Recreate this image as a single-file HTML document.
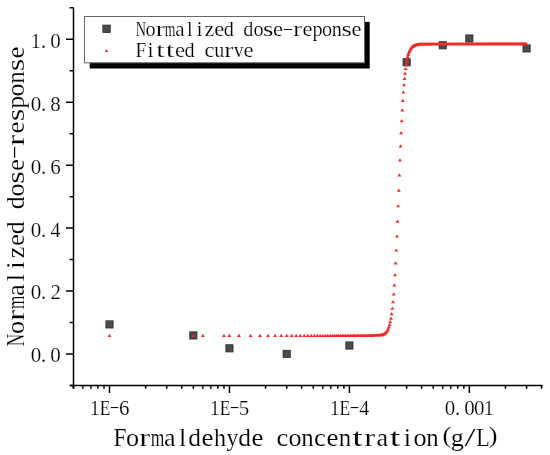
<!DOCTYPE html>
<html><head><meta charset="utf-8"><style>
html,body{margin:0;padding:0;background:#fff;}
body{width:550px;height:455px;overflow:hidden;}
svg{display:block;}
text{font-family:"Liberation Serif", serif;fill:#000;stroke:#fff;stroke-width:0.2px;}
.tl{font-size:21px;}
.ti{font-size:26.2px;stroke-width:0.15px;}
.lg{font-size:20.2px;}
</style></head><body>
<svg width="550" height="455" viewBox="0 0 550 455">
<rect width="550" height="455" fill="#fff"/>
<g fill="#4b4b4b" stroke="#2b2b2b" stroke-width="0.8">
<rect x="105.90" y="320.82" width="7.2" height="7.2"/>
<rect x="189.74" y="331.83" width="7.2" height="7.2"/>
<rect x="225.85" y="344.74" width="7.2" height="7.2"/>
<rect x="283.08" y="350.24" width="7.2" height="7.2"/>
<rect x="345.80" y="341.90" width="7.2" height="7.2"/>
<rect x="403.03" y="58.67" width="7.2" height="7.2"/>
<rect x="439.14" y="41.68" width="7.2" height="7.2"/>
<rect x="465.75" y="34.91" width="7.2" height="7.2"/>
<rect x="522.98" y="44.83" width="7.2" height="7.2"/>
</g>
<path fill="#f42a2a" d="M107.55 336.91h3.9l-1.95 -3.2zM191.39 336.91h3.9l-1.95 -3.2zM227.50 336.91h3.9l-1.95 -3.2zM200.89 336.91h3.9l-1.95 -3.2zM222.01 336.91h3.9l-1.95 -3.2zM237.00 336.91h3.9l-1.95 -3.2zM248.62 336.91h3.9l-1.95 -3.2zM258.12 336.91h3.9l-1.95 -3.2zM266.15 336.91h3.9l-1.95 -3.2zM273.11 336.91h3.9l-1.95 -3.2zM279.24 336.91h3.9l-1.95 -3.2zM284.73 336.91h3.9l-1.95 -3.2zM289.70 336.91h3.9l-1.95 -3.2zM294.23 336.91h3.9l-1.95 -3.2zM298.40 336.91h3.9l-1.95 -3.2zM302.26 336.91h3.9l-1.95 -3.2zM305.85 336.91h3.9l-1.95 -3.2zM309.21 336.91h3.9l-1.95 -3.2zM312.37 336.91h3.9l-1.95 -3.2zM315.35 336.91h3.9l-1.95 -3.2zM318.17 336.91h3.9l-1.95 -3.2zM320.84 336.91h3.9l-1.95 -3.2zM323.38 336.91h3.9l-1.95 -3.2zM325.80 336.91h3.9l-1.95 -3.2zM328.12 336.91h3.9l-1.95 -3.2zM330.34 336.91h3.9l-1.95 -3.2zM332.46 336.91h3.9l-1.95 -3.2zM334.51 336.91h3.9l-1.95 -3.2zM336.47 336.91h3.9l-1.95 -3.2zM338.37 336.91h3.9l-1.95 -3.2zM340.20 336.91h3.9l-1.95 -3.2zM341.96 336.91h3.9l-1.95 -3.2zM343.67 336.91h3.9l-1.95 -3.2zM345.32 336.91h3.9l-1.95 -3.2zM346.93 336.91h3.9l-1.95 -3.2zM348.48 336.91h3.9l-1.95 -3.2zM349.99 336.91h3.9l-1.95 -3.2zM351.46 336.91h3.9l-1.95 -3.2zM352.89 336.91h3.9l-1.95 -3.2zM354.28 336.91h3.9l-1.95 -3.2zM355.63 336.91h3.9l-1.95 -3.2zM356.95 336.91h3.9l-1.95 -3.2zM358.23 336.91h3.9l-1.95 -3.2zM359.49 336.91h3.9l-1.95 -3.2zM360.72 336.91h3.9l-1.95 -3.2zM361.91 336.91h3.9l-1.95 -3.2zM363.08 336.90h3.9l-1.95 -3.2zM364.23 336.90h3.9l-1.95 -3.2zM365.35 336.90h3.9l-1.95 -3.2zM366.45 336.90h3.9l-1.95 -3.2zM367.52 336.90h3.9l-1.95 -3.2zM368.57 336.89h3.9l-1.95 -3.2zM369.60 336.89h3.9l-1.95 -3.2zM370.62 336.88h3.9l-1.95 -3.2zM371.61 336.87h3.9l-1.95 -3.2zM372.58 336.85h3.9l-1.95 -3.2zM373.54 336.83h3.9l-1.95 -3.2zM374.48 336.80h3.9l-1.95 -3.2zM375.40 336.75h3.9l-1.95 -3.2zM376.30 336.70h3.9l-1.95 -3.2zM377.19 336.62h3.9l-1.95 -3.2zM378.07 336.52h3.9l-1.95 -3.2zM378.93 336.38h3.9l-1.95 -3.2zM379.78 336.19h3.9l-1.95 -3.2zM380.61 335.95h3.9l-1.95 -3.2zM381.43 335.63h3.9l-1.95 -3.2zM382.24 335.21h3.9l-1.95 -3.2zM383.03 334.67h3.9l-1.95 -3.2zM383.82 333.97h3.9l-1.95 -3.2zM384.59 333.06h3.9l-1.95 -3.2zM385.35 331.90h3.9l-1.95 -3.2zM386.10 330.43h3.9l-1.95 -3.2zM386.84 328.56h3.9l-1.95 -3.2zM387.57 326.20h3.9l-1.95 -3.2zM388.29 323.27h3.9l-1.95 -3.2zM389.00 319.63h3.9l-1.95 -3.2zM389.69 315.17h3.9l-1.95 -3.2zM390.38 309.75h3.9l-1.95 -3.2zM391.07 303.24h3.9l-1.95 -3.2zM391.74 295.53h3.9l-1.95 -3.2zM392.40 286.52h3.9l-1.95 -3.2zM393.06 276.17h3.9l-1.95 -3.2zM393.70 264.50h3.9l-1.95 -3.2zM394.34 251.58h3.9l-1.95 -3.2zM394.97 237.58h3.9l-1.95 -3.2zM395.60 222.74h3.9l-1.95 -3.2zM396.21 207.37h3.9l-1.95 -3.2zM396.82 191.82h3.9l-1.95 -3.2zM397.43 176.43h3.9l-1.95 -3.2zM398.02 161.54h3.9l-1.95 -3.2zM398.61 147.42h3.9l-1.95 -3.2zM399.19 134.30h3.9l-1.95 -3.2zM399.77 122.32h3.9l-1.95 -3.2zM400.34 111.54h3.9l-1.95 -3.2zM400.90 101.98h3.9l-1.95 -3.2zM401.46 93.59h3.9l-1.95 -3.2zM402.01 86.31h3.9l-1.95 -3.2zM402.55 80.04h3.9l-1.95 -3.2zM403.09 74.68h3.9l-1.95 -3.2zM403.63 70.12h3.9l-1.95 -3.2zM404.16 66.25h3.9l-1.95 -3.2zM404.68 62.98h3.9l-1.95 -3.2zM405.20 60.23h3.9l-1.95 -3.2zM405.71 57.92h3.9l-1.95 -3.2zM406.22 55.98h3.9l-1.95 -3.2zM406.72 54.34h3.9l-1.95 -3.2zM407.22 52.98h3.9l-1.95 -3.2zM407.72 51.83h3.9l-1.95 -3.2zM408.21 50.86h3.9l-1.95 -3.2zM408.69 50.05h3.9l-1.95 -3.2zM409.17 49.37h3.9l-1.95 -3.2zM409.65 48.80h3.9l-1.95 -3.2zM410.12 48.32h3.9l-1.95 -3.2zM410.58 47.91h3.9l-1.95 -3.2zM411.05 47.57h3.9l-1.95 -3.2zM411.51 47.28h3.9l-1.95 -3.2zM411.96 47.04h3.9l-1.95 -3.2zM412.41 46.83h3.9l-1.95 -3.2zM412.86 46.65h3.9l-1.95 -3.2zM413.30 46.50h3.9l-1.95 -3.2zM413.74 46.38h3.9l-1.95 -3.2zM414.18 46.27h3.9l-1.95 -3.2zM414.61 46.18h3.9l-1.95 -3.2zM415.04 46.10h3.9l-1.95 -3.2zM415.46 46.03h3.9l-1.95 -3.2zM415.89 45.98h3.9l-1.95 -3.2zM416.31 45.93h3.9l-1.95 -3.2zM416.72 45.89h3.9l-1.95 -3.2zM417.13 45.85h3.9l-1.95 -3.2zM417.54 45.82h3.9l-1.95 -3.2zM417.95 45.79h3.9l-1.95 -3.2zM418.35 45.77h3.9l-1.95 -3.2zM418.75 45.75h3.9l-1.95 -3.2zM419.14 45.73h3.9l-1.95 -3.2zM419.54 45.72h3.9l-1.95 -3.2zM419.93 45.71h3.9l-1.95 -3.2zM420.31 45.70h3.9l-1.95 -3.2zM420.70 45.69h3.9l-1.95 -3.2zM421.08 45.68h3.9l-1.95 -3.2zM421.46 45.67h3.9l-1.95 -3.2zM421.84 45.66h3.9l-1.95 -3.2zM422.21 45.66h3.9l-1.95 -3.2zM422.58 45.65h3.9l-1.95 -3.2zM422.95 45.65h3.9l-1.95 -3.2zM423.31 45.65h3.9l-1.95 -3.2zM423.68 45.64h3.9l-1.95 -3.2zM424.04 45.64h3.9l-1.95 -3.2zM424.39 45.64h3.9l-1.95 -3.2zM424.75 45.64h3.9l-1.95 -3.2zM425.10 45.63h3.9l-1.95 -3.2zM425.45 45.63h3.9l-1.95 -3.2zM425.80 45.63h3.9l-1.95 -3.2zM426.15 45.63h3.9l-1.95 -3.2zM426.49 45.63h3.9l-1.95 -3.2zM426.83 45.63h3.9l-1.95 -3.2zM427.17 45.63h3.9l-1.95 -3.2zM427.51 45.63h3.9l-1.95 -3.2zM427.85 45.63h3.9l-1.95 -3.2zM428.18 45.63h3.9l-1.95 -3.2zM428.51 45.62h3.9l-1.95 -3.2zM428.84 45.62h3.9l-1.95 -3.2zM429.16 45.62h3.9l-1.95 -3.2zM429.49 45.62h3.9l-1.95 -3.2zM429.81 45.62h3.9l-1.95 -3.2zM430.13 45.62h3.9l-1.95 -3.2zM430.45 45.62h3.9l-1.95 -3.2zM430.77 45.62h3.9l-1.95 -3.2zM431.08 45.62h3.9l-1.95 -3.2zM431.40 45.62h3.9l-1.95 -3.2zM431.71 45.62h3.9l-1.95 -3.2zM432.02 45.62h3.9l-1.95 -3.2zM432.32 45.62h3.9l-1.95 -3.2zM432.63 45.62h3.9l-1.95 -3.2zM432.93 45.62h3.9l-1.95 -3.2zM433.23 45.62h3.9l-1.95 -3.2zM433.53 45.62h3.9l-1.95 -3.2zM433.83 45.62h3.9l-1.95 -3.2zM434.13 45.62h3.9l-1.95 -3.2zM434.43 45.62h3.9l-1.95 -3.2zM434.72 45.62h3.9l-1.95 -3.2zM435.01 45.62h3.9l-1.95 -3.2zM435.30 45.62h3.9l-1.95 -3.2zM435.59 45.62h3.9l-1.95 -3.2zM435.88 45.62h3.9l-1.95 -3.2zM436.16 45.62h3.9l-1.95 -3.2zM436.45 45.62h3.9l-1.95 -3.2zM436.73 45.62h3.9l-1.95 -3.2zM437.01 45.62h3.9l-1.95 -3.2zM437.29 45.62h3.9l-1.95 -3.2zM437.57 45.62h3.9l-1.95 -3.2zM437.84 45.62h3.9l-1.95 -3.2zM438.12 45.62h3.9l-1.95 -3.2zM438.39 45.62h3.9l-1.95 -3.2zM438.66 45.62h3.9l-1.95 -3.2zM438.93 45.62h3.9l-1.95 -3.2zM439.20 45.62h3.9l-1.95 -3.2zM439.47 45.62h3.9l-1.95 -3.2zM439.74 45.62h3.9l-1.95 -3.2zM440.00 45.62h3.9l-1.95 -3.2zM440.27 45.62h3.9l-1.95 -3.2zM440.53 45.62h3.9l-1.95 -3.2zM440.79 45.62h3.9l-1.95 -3.2zM441.05 45.62h3.9l-1.95 -3.2zM441.31 45.62h3.9l-1.95 -3.2zM441.56 45.62h3.9l-1.95 -3.2zM441.82 45.62h3.9l-1.95 -3.2zM442.08 45.62h3.9l-1.95 -3.2zM442.33 45.62h3.9l-1.95 -3.2zM442.58 45.62h3.9l-1.95 -3.2zM442.83 45.62h3.9l-1.95 -3.2zM443.08 45.62h3.9l-1.95 -3.2zM443.33 45.62h3.9l-1.95 -3.2zM443.58 45.62h3.9l-1.95 -3.2zM443.82 45.62h3.9l-1.95 -3.2zM444.07 45.62h3.9l-1.95 -3.2zM444.31 45.62h3.9l-1.95 -3.2zM444.56 45.62h3.9l-1.95 -3.2zM444.80 45.62h3.9l-1.95 -3.2zM445.04 45.62h3.9l-1.95 -3.2zM445.28 45.62h3.9l-1.95 -3.2zM445.52 45.62h3.9l-1.95 -3.2zM445.75 45.62h3.9l-1.95 -3.2zM445.99 45.62h3.9l-1.95 -3.2zM446.23 45.62h3.9l-1.95 -3.2zM446.46 45.62h3.9l-1.95 -3.2zM446.69 45.62h3.9l-1.95 -3.2zM446.92 45.62h3.9l-1.95 -3.2zM447.16 45.62h3.9l-1.95 -3.2zM447.39 45.62h3.9l-1.95 -3.2zM447.61 45.62h3.9l-1.95 -3.2zM447.84 45.62h3.9l-1.95 -3.2zM448.07 45.62h3.9l-1.95 -3.2zM448.30 45.62h3.9l-1.95 -3.2zM448.52 45.62h3.9l-1.95 -3.2zM448.75 45.62h3.9l-1.95 -3.2zM448.97 45.62h3.9l-1.95 -3.2zM449.19 45.62h3.9l-1.95 -3.2zM449.41 45.62h3.9l-1.95 -3.2zM449.63 45.62h3.9l-1.95 -3.2zM449.85 45.62h3.9l-1.95 -3.2zM450.07 45.62h3.9l-1.95 -3.2zM450.29 45.62h3.9l-1.95 -3.2zM450.50 45.62h3.9l-1.95 -3.2zM450.72 45.62h3.9l-1.95 -3.2zM450.93 45.62h3.9l-1.95 -3.2zM451.15 45.62h3.9l-1.95 -3.2zM451.36 45.62h3.9l-1.95 -3.2zM451.57 45.62h3.9l-1.95 -3.2zM451.78 45.62h3.9l-1.95 -3.2zM452.00 45.62h3.9l-1.95 -3.2zM452.20 45.62h3.9l-1.95 -3.2zM452.41 45.62h3.9l-1.95 -3.2zM452.62 45.62h3.9l-1.95 -3.2zM452.83 45.62h3.9l-1.95 -3.2zM453.04 45.62h3.9l-1.95 -3.2zM453.24 45.62h3.9l-1.95 -3.2zM453.45 45.62h3.9l-1.95 -3.2zM453.65 45.62h3.9l-1.95 -3.2zM453.85 45.62h3.9l-1.95 -3.2zM454.05 45.62h3.9l-1.95 -3.2zM454.26 45.62h3.9l-1.95 -3.2zM454.46 45.62h3.9l-1.95 -3.2zM454.66 45.62h3.9l-1.95 -3.2zM454.86 45.62h3.9l-1.95 -3.2zM455.05 45.62h3.9l-1.95 -3.2zM455.25 45.62h3.9l-1.95 -3.2zM455.45 45.62h3.9l-1.95 -3.2zM455.65 45.62h3.9l-1.95 -3.2zM455.84 45.62h3.9l-1.95 -3.2zM456.04 45.62h3.9l-1.95 -3.2zM456.23 45.62h3.9l-1.95 -3.2zM456.42 45.62h3.9l-1.95 -3.2zM456.62 45.62h3.9l-1.95 -3.2zM456.81 45.62h3.9l-1.95 -3.2zM457.00 45.62h3.9l-1.95 -3.2zM457.19 45.62h3.9l-1.95 -3.2zM457.38 45.62h3.9l-1.95 -3.2zM457.57 45.62h3.9l-1.95 -3.2zM457.76 45.62h3.9l-1.95 -3.2zM457.94 45.62h3.9l-1.95 -3.2zM458.13 45.62h3.9l-1.95 -3.2zM458.32 45.62h3.9l-1.95 -3.2zM458.50 45.62h3.9l-1.95 -3.2zM458.69 45.62h3.9l-1.95 -3.2zM458.87 45.62h3.9l-1.95 -3.2zM459.06 45.62h3.9l-1.95 -3.2zM459.24 45.62h3.9l-1.95 -3.2zM459.42 45.62h3.9l-1.95 -3.2zM459.60 45.62h3.9l-1.95 -3.2zM459.78 45.62h3.9l-1.95 -3.2zM459.97 45.62h3.9l-1.95 -3.2zM460.15 45.62h3.9l-1.95 -3.2zM460.32 45.62h3.9l-1.95 -3.2zM460.50 45.62h3.9l-1.95 -3.2zM460.68 45.62h3.9l-1.95 -3.2zM460.86 45.62h3.9l-1.95 -3.2zM461.04 45.62h3.9l-1.95 -3.2zM461.21 45.62h3.9l-1.95 -3.2zM461.39 45.62h3.9l-1.95 -3.2zM461.56 45.62h3.9l-1.95 -3.2zM461.74 45.62h3.9l-1.95 -3.2zM461.91 45.62h3.9l-1.95 -3.2zM462.08 45.62h3.9l-1.95 -3.2zM462.26 45.62h3.9l-1.95 -3.2zM462.43 45.62h3.9l-1.95 -3.2zM462.60 45.62h3.9l-1.95 -3.2zM462.77 45.62h3.9l-1.95 -3.2zM462.94 45.62h3.9l-1.95 -3.2zM463.11 45.62h3.9l-1.95 -3.2zM463.28 45.62h3.9l-1.95 -3.2zM463.45 45.62h3.9l-1.95 -3.2zM463.62 45.62h3.9l-1.95 -3.2zM463.79 45.62h3.9l-1.95 -3.2zM463.95 45.62h3.9l-1.95 -3.2zM464.12 45.62h3.9l-1.95 -3.2zM464.29 45.62h3.9l-1.95 -3.2zM464.45 45.62h3.9l-1.95 -3.2zM464.62 45.62h3.9l-1.95 -3.2zM464.78 45.62h3.9l-1.95 -3.2zM464.95 45.62h3.9l-1.95 -3.2zM465.11 45.62h3.9l-1.95 -3.2zM465.27 45.62h3.9l-1.95 -3.2zM465.44 45.62h3.9l-1.95 -3.2zM465.60 45.62h3.9l-1.95 -3.2zM465.76 45.62h3.9l-1.95 -3.2zM465.92 45.62h3.9l-1.95 -3.2zM466.08 45.62h3.9l-1.95 -3.2zM466.24 45.62h3.9l-1.95 -3.2zM466.40 45.62h3.9l-1.95 -3.2zM466.56 45.62h3.9l-1.95 -3.2zM466.72 45.62h3.9l-1.95 -3.2zM466.88 45.62h3.9l-1.95 -3.2zM467.03 45.62h3.9l-1.95 -3.2zM467.19 45.62h3.9l-1.95 -3.2zM467.35 45.62h3.9l-1.95 -3.2zM467.50 45.62h3.9l-1.95 -3.2zM467.66 45.62h3.9l-1.95 -3.2zM467.82 45.62h3.9l-1.95 -3.2zM467.97 45.62h3.9l-1.95 -3.2zM468.12 45.62h3.9l-1.95 -3.2zM468.28 45.62h3.9l-1.95 -3.2zM468.43 45.62h3.9l-1.95 -3.2zM468.58 45.62h3.9l-1.95 -3.2zM468.74 45.62h3.9l-1.95 -3.2zM468.89 45.62h3.9l-1.95 -3.2zM469.04 45.62h3.9l-1.95 -3.2zM469.19 45.62h3.9l-1.95 -3.2zM469.34 45.62h3.9l-1.95 -3.2zM469.49 45.62h3.9l-1.95 -3.2zM469.64 45.62h3.9l-1.95 -3.2zM469.79 45.62h3.9l-1.95 -3.2zM469.94 45.62h3.9l-1.95 -3.2zM470.09 45.62h3.9l-1.95 -3.2zM470.24 45.62h3.9l-1.95 -3.2zM470.39 45.62h3.9l-1.95 -3.2zM470.53 45.62h3.9l-1.95 -3.2zM470.68 45.62h3.9l-1.95 -3.2zM470.83 45.62h3.9l-1.95 -3.2zM470.97 45.62h3.9l-1.95 -3.2zM471.12 45.62h3.9l-1.95 -3.2zM471.26 45.62h3.9l-1.95 -3.2zM471.41 45.62h3.9l-1.95 -3.2zM471.55 45.62h3.9l-1.95 -3.2zM471.70 45.62h3.9l-1.95 -3.2zM471.84 45.62h3.9l-1.95 -3.2zM471.98 45.62h3.9l-1.95 -3.2zM472.13 45.62h3.9l-1.95 -3.2zM472.27 45.62h3.9l-1.95 -3.2zM472.41 45.62h3.9l-1.95 -3.2zM472.55 45.62h3.9l-1.95 -3.2zM472.70 45.62h3.9l-1.95 -3.2zM472.84 45.62h3.9l-1.95 -3.2zM472.98 45.62h3.9l-1.95 -3.2zM473.12 45.62h3.9l-1.95 -3.2zM473.26 45.62h3.9l-1.95 -3.2zM473.40 45.62h3.9l-1.95 -3.2zM473.54 45.62h3.9l-1.95 -3.2zM473.67 45.62h3.9l-1.95 -3.2zM473.81 45.62h3.9l-1.95 -3.2zM473.95 45.62h3.9l-1.95 -3.2zM474.09 45.62h3.9l-1.95 -3.2zM474.23 45.62h3.9l-1.95 -3.2zM474.36 45.62h3.9l-1.95 -3.2zM474.50 45.62h3.9l-1.95 -3.2zM474.64 45.62h3.9l-1.95 -3.2zM474.77 45.62h3.9l-1.95 -3.2zM474.91 45.62h3.9l-1.95 -3.2zM475.04 45.62h3.9l-1.95 -3.2zM475.18 45.62h3.9l-1.95 -3.2zM475.31 45.62h3.9l-1.95 -3.2zM475.45 45.62h3.9l-1.95 -3.2zM475.58 45.62h3.9l-1.95 -3.2zM475.71 45.62h3.9l-1.95 -3.2zM475.85 45.62h3.9l-1.95 -3.2zM475.98 45.62h3.9l-1.95 -3.2zM476.11 45.62h3.9l-1.95 -3.2zM476.24 45.62h3.9l-1.95 -3.2zM476.37 45.62h3.9l-1.95 -3.2zM476.51 45.62h3.9l-1.95 -3.2zM476.64 45.62h3.9l-1.95 -3.2zM476.77 45.62h3.9l-1.95 -3.2zM476.90 45.62h3.9l-1.95 -3.2zM477.03 45.62h3.9l-1.95 -3.2zM477.16 45.62h3.9l-1.95 -3.2zM477.29 45.62h3.9l-1.95 -3.2zM477.42 45.62h3.9l-1.95 -3.2zM477.54 45.62h3.9l-1.95 -3.2zM477.67 45.62h3.9l-1.95 -3.2zM477.80 45.62h3.9l-1.95 -3.2zM477.93 45.62h3.9l-1.95 -3.2zM478.06 45.62h3.9l-1.95 -3.2zM478.18 45.62h3.9l-1.95 -3.2zM478.31 45.62h3.9l-1.95 -3.2zM478.44 45.62h3.9l-1.95 -3.2zM478.56 45.62h3.9l-1.95 -3.2zM478.69 45.62h3.9l-1.95 -3.2zM478.82 45.62h3.9l-1.95 -3.2zM478.94 45.62h3.9l-1.95 -3.2zM479.07 45.62h3.9l-1.95 -3.2zM479.19 45.62h3.9l-1.95 -3.2zM479.32 45.62h3.9l-1.95 -3.2zM479.44 45.62h3.9l-1.95 -3.2zM479.56 45.62h3.9l-1.95 -3.2zM479.69 45.62h3.9l-1.95 -3.2zM479.81 45.62h3.9l-1.95 -3.2zM479.93 45.62h3.9l-1.95 -3.2zM480.06 45.62h3.9l-1.95 -3.2zM480.18 45.62h3.9l-1.95 -3.2zM480.30 45.62h3.9l-1.95 -3.2zM480.42 45.62h3.9l-1.95 -3.2zM480.54 45.62h3.9l-1.95 -3.2zM480.67 45.62h3.9l-1.95 -3.2zM480.79 45.62h3.9l-1.95 -3.2zM480.91 45.62h3.9l-1.95 -3.2zM481.03 45.62h3.9l-1.95 -3.2zM481.15 45.62h3.9l-1.95 -3.2zM481.27 45.62h3.9l-1.95 -3.2zM481.39 45.62h3.9l-1.95 -3.2zM481.51 45.62h3.9l-1.95 -3.2zM481.63 45.62h3.9l-1.95 -3.2zM481.74 45.62h3.9l-1.95 -3.2zM481.86 45.62h3.9l-1.95 -3.2zM481.98 45.62h3.9l-1.95 -3.2zM482.10 45.62h3.9l-1.95 -3.2zM482.22 45.62h3.9l-1.95 -3.2zM482.33 45.62h3.9l-1.95 -3.2zM482.45 45.62h3.9l-1.95 -3.2zM482.57 45.62h3.9l-1.95 -3.2zM482.69 45.62h3.9l-1.95 -3.2zM482.80 45.62h3.9l-1.95 -3.2zM482.92 45.62h3.9l-1.95 -3.2zM483.03 45.62h3.9l-1.95 -3.2zM483.15 45.62h3.9l-1.95 -3.2zM483.26 45.62h3.9l-1.95 -3.2zM483.38 45.62h3.9l-1.95 -3.2zM483.49 45.62h3.9l-1.95 -3.2zM483.61 45.62h3.9l-1.95 -3.2zM483.72 45.62h3.9l-1.95 -3.2zM483.84 45.62h3.9l-1.95 -3.2zM483.95 45.62h3.9l-1.95 -3.2zM484.07 45.62h3.9l-1.95 -3.2zM484.18 45.62h3.9l-1.95 -3.2zM484.29 45.62h3.9l-1.95 -3.2zM484.40 45.62h3.9l-1.95 -3.2zM484.52 45.62h3.9l-1.95 -3.2zM484.63 45.62h3.9l-1.95 -3.2zM484.74 45.62h3.9l-1.95 -3.2zM484.85 45.62h3.9l-1.95 -3.2zM484.97 45.62h3.9l-1.95 -3.2zM485.08 45.62h3.9l-1.95 -3.2zM485.19 45.62h3.9l-1.95 -3.2zM485.30 45.62h3.9l-1.95 -3.2zM485.41 45.62h3.9l-1.95 -3.2zM485.52 45.62h3.9l-1.95 -3.2zM485.63 45.62h3.9l-1.95 -3.2zM485.74 45.62h3.9l-1.95 -3.2zM485.85 45.62h3.9l-1.95 -3.2zM485.96 45.62h3.9l-1.95 -3.2zM486.07 45.62h3.9l-1.95 -3.2zM486.18 45.62h3.9l-1.95 -3.2zM486.29 45.62h3.9l-1.95 -3.2zM486.40 45.62h3.9l-1.95 -3.2zM486.50 45.62h3.9l-1.95 -3.2zM486.61 45.62h3.9l-1.95 -3.2zM486.72 45.62h3.9l-1.95 -3.2zM486.83 45.62h3.9l-1.95 -3.2zM486.94 45.62h3.9l-1.95 -3.2zM487.04 45.62h3.9l-1.95 -3.2zM487.15 45.62h3.9l-1.95 -3.2zM487.26 45.62h3.9l-1.95 -3.2zM487.36 45.62h3.9l-1.95 -3.2zM487.47 45.62h3.9l-1.95 -3.2zM487.58 45.62h3.9l-1.95 -3.2zM487.68 45.62h3.9l-1.95 -3.2zM487.79 45.62h3.9l-1.95 -3.2zM487.89 45.62h3.9l-1.95 -3.2zM488.00 45.62h3.9l-1.95 -3.2zM488.10 45.62h3.9l-1.95 -3.2zM488.21 45.62h3.9l-1.95 -3.2zM488.31 45.62h3.9l-1.95 -3.2zM488.42 45.62h3.9l-1.95 -3.2zM488.52 45.62h3.9l-1.95 -3.2zM488.63 45.62h3.9l-1.95 -3.2zM488.73 45.62h3.9l-1.95 -3.2zM488.83 45.62h3.9l-1.95 -3.2zM488.94 45.62h3.9l-1.95 -3.2zM489.04 45.62h3.9l-1.95 -3.2zM489.14 45.62h3.9l-1.95 -3.2zM489.25 45.62h3.9l-1.95 -3.2zM489.35 45.62h3.9l-1.95 -3.2zM489.45 45.62h3.9l-1.95 -3.2zM489.55 45.62h3.9l-1.95 -3.2zM489.66 45.62h3.9l-1.95 -3.2zM489.76 45.62h3.9l-1.95 -3.2zM489.86 45.62h3.9l-1.95 -3.2zM489.96 45.62h3.9l-1.95 -3.2zM490.06 45.62h3.9l-1.95 -3.2zM490.16 45.62h3.9l-1.95 -3.2zM490.26 45.62h3.9l-1.95 -3.2zM490.36 45.62h3.9l-1.95 -3.2zM490.47 45.62h3.9l-1.95 -3.2zM490.57 45.62h3.9l-1.95 -3.2zM490.67 45.62h3.9l-1.95 -3.2zM490.77 45.62h3.9l-1.95 -3.2zM490.86 45.62h3.9l-1.95 -3.2zM490.96 45.62h3.9l-1.95 -3.2zM491.06 45.62h3.9l-1.95 -3.2zM491.16 45.62h3.9l-1.95 -3.2zM491.26 45.62h3.9l-1.95 -3.2zM491.36 45.62h3.9l-1.95 -3.2zM491.46 45.62h3.9l-1.95 -3.2zM491.56 45.62h3.9l-1.95 -3.2zM491.66 45.62h3.9l-1.95 -3.2zM491.75 45.62h3.9l-1.95 -3.2zM491.85 45.62h3.9l-1.95 -3.2zM491.95 45.62h3.9l-1.95 -3.2zM492.05 45.62h3.9l-1.95 -3.2zM492.14 45.62h3.9l-1.95 -3.2zM492.24 45.62h3.9l-1.95 -3.2zM492.34 45.62h3.9l-1.95 -3.2zM492.43 45.62h3.9l-1.95 -3.2zM492.53 45.62h3.9l-1.95 -3.2zM492.63 45.62h3.9l-1.95 -3.2zM492.72 45.62h3.9l-1.95 -3.2zM492.82 45.62h3.9l-1.95 -3.2zM492.92 45.62h3.9l-1.95 -3.2zM493.01 45.62h3.9l-1.95 -3.2zM493.11 45.62h3.9l-1.95 -3.2zM493.20 45.62h3.9l-1.95 -3.2zM493.39 45.62h3.9l-1.95 -3.2zM493.49 45.62h3.9l-1.95 -3.2zM493.58 45.62h3.9l-1.95 -3.2zM493.68 45.62h3.9l-1.95 -3.2zM493.77 45.62h3.9l-1.95 -3.2zM493.86 45.62h3.9l-1.95 -3.2zM493.96 45.62h3.9l-1.95 -3.2zM494.05 45.62h3.9l-1.95 -3.2zM494.15 45.62h3.9l-1.95 -3.2zM494.24 45.62h3.9l-1.95 -3.2zM494.33 45.62h3.9l-1.95 -3.2zM494.43 45.62h3.9l-1.95 -3.2zM494.52 45.62h3.9l-1.95 -3.2zM494.61 45.62h3.9l-1.95 -3.2zM494.70 45.62h3.9l-1.95 -3.2zM494.89 45.62h3.9l-1.95 -3.2zM494.98 45.62h3.9l-1.95 -3.2zM495.07 45.62h3.9l-1.95 -3.2zM495.16 45.62h3.9l-1.95 -3.2zM495.26 45.62h3.9l-1.95 -3.2zM495.35 45.62h3.9l-1.95 -3.2zM495.44 45.62h3.9l-1.95 -3.2zM495.53 45.62h3.9l-1.95 -3.2zM495.62 45.62h3.9l-1.95 -3.2zM495.71 45.62h3.9l-1.95 -3.2zM495.80 45.62h3.9l-1.95 -3.2zM495.98 45.62h3.9l-1.95 -3.2zM496.07 45.62h3.9l-1.95 -3.2zM496.16 45.62h3.9l-1.95 -3.2zM496.25 45.62h3.9l-1.95 -3.2zM496.34 45.62h3.9l-1.95 -3.2zM496.43 45.62h3.9l-1.95 -3.2zM496.52 45.62h3.9l-1.95 -3.2zM496.61 45.62h3.9l-1.95 -3.2zM496.70 45.62h3.9l-1.95 -3.2zM496.88 45.62h3.9l-1.95 -3.2zM496.97 45.62h3.9l-1.95 -3.2zM497.06 45.62h3.9l-1.95 -3.2zM497.14 45.62h3.9l-1.95 -3.2zM497.23 45.62h3.9l-1.95 -3.2zM497.32 45.62h3.9l-1.95 -3.2zM497.41 45.62h3.9l-1.95 -3.2zM497.58 45.62h3.9l-1.95 -3.2zM497.67 45.62h3.9l-1.95 -3.2zM497.76 45.62h3.9l-1.95 -3.2zM497.85 45.62h3.9l-1.95 -3.2zM497.93 45.62h3.9l-1.95 -3.2zM498.02 45.62h3.9l-1.95 -3.2zM498.11 45.62h3.9l-1.95 -3.2zM498.28 45.62h3.9l-1.95 -3.2zM498.37 45.62h3.9l-1.95 -3.2zM498.45 45.62h3.9l-1.95 -3.2zM498.54 45.62h3.9l-1.95 -3.2zM498.62 45.62h3.9l-1.95 -3.2zM498.71 45.62h3.9l-1.95 -3.2zM498.88 45.62h3.9l-1.95 -3.2zM498.97 45.62h3.9l-1.95 -3.2zM499.05 45.62h3.9l-1.95 -3.2zM499.14 45.62h3.9l-1.95 -3.2zM499.22 45.62h3.9l-1.95 -3.2zM499.31 45.62h3.9l-1.95 -3.2zM499.48 45.62h3.9l-1.95 -3.2zM499.56 45.62h3.9l-1.95 -3.2zM499.64 45.62h3.9l-1.95 -3.2zM499.73 45.62h3.9l-1.95 -3.2zM499.81 45.62h3.9l-1.95 -3.2zM499.98 45.62h3.9l-1.95 -3.2zM500.06 45.62h3.9l-1.95 -3.2zM500.15 45.62h3.9l-1.95 -3.2zM500.23 45.62h3.9l-1.95 -3.2zM500.31 45.62h3.9l-1.95 -3.2zM500.48 45.62h3.9l-1.95 -3.2zM500.56 45.62h3.9l-1.95 -3.2zM500.64 45.62h3.9l-1.95 -3.2zM500.73 45.62h3.9l-1.95 -3.2zM500.81 45.62h3.9l-1.95 -3.2zM500.97 45.62h3.9l-1.95 -3.2zM501.06 45.62h3.9l-1.95 -3.2zM501.14 45.62h3.9l-1.95 -3.2zM501.22 45.62h3.9l-1.95 -3.2zM501.30 45.62h3.9l-1.95 -3.2zM501.46 45.62h3.9l-1.95 -3.2zM501.54 45.62h3.9l-1.95 -3.2zM501.63 45.62h3.9l-1.95 -3.2zM501.71 45.62h3.9l-1.95 -3.2zM501.87 45.62h3.9l-1.95 -3.2zM501.95 45.62h3.9l-1.95 -3.2zM502.03 45.62h3.9l-1.95 -3.2zM502.11 45.62h3.9l-1.95 -3.2zM502.27 45.62h3.9l-1.95 -3.2zM502.35 45.62h3.9l-1.95 -3.2zM502.43 45.62h3.9l-1.95 -3.2zM502.51 45.62h3.9l-1.95 -3.2zM502.67 45.62h3.9l-1.95 -3.2zM502.75 45.62h3.9l-1.95 -3.2zM502.83 45.62h3.9l-1.95 -3.2zM502.91 45.62h3.9l-1.95 -3.2zM503.06 45.62h3.9l-1.95 -3.2zM503.14 45.62h3.9l-1.95 -3.2zM503.22 45.62h3.9l-1.95 -3.2zM503.38 45.62h3.9l-1.95 -3.2zM503.46 45.62h3.9l-1.95 -3.2zM503.53 45.62h3.9l-1.95 -3.2zM503.61 45.62h3.9l-1.95 -3.2zM503.77 45.62h3.9l-1.95 -3.2zM503.85 45.62h3.9l-1.95 -3.2zM503.92 45.62h3.9l-1.95 -3.2zM504.00 45.62h3.9l-1.95 -3.2zM504.16 45.62h3.9l-1.95 -3.2zM504.23 45.62h3.9l-1.95 -3.2zM504.31 45.62h3.9l-1.95 -3.2zM504.46 45.62h3.9l-1.95 -3.2zM504.54 45.62h3.9l-1.95 -3.2zM504.62 45.62h3.9l-1.95 -3.2zM504.77 45.62h3.9l-1.95 -3.2zM504.85 45.62h3.9l-1.95 -3.2zM504.92 45.62h3.9l-1.95 -3.2zM505.07 45.62h3.9l-1.95 -3.2zM505.15 45.62h3.9l-1.95 -3.2zM505.23 45.62h3.9l-1.95 -3.2zM505.30 45.62h3.9l-1.95 -3.2zM505.45 45.62h3.9l-1.95 -3.2zM505.53 45.62h3.9l-1.95 -3.2zM505.60 45.62h3.9l-1.95 -3.2zM505.75 45.62h3.9l-1.95 -3.2zM505.83 45.62h3.9l-1.95 -3.2zM505.90 45.62h3.9l-1.95 -3.2zM506.05 45.62h3.9l-1.95 -3.2zM506.12 45.62h3.9l-1.95 -3.2zM506.27 45.62h3.9l-1.95 -3.2zM506.35 45.62h3.9l-1.95 -3.2zM506.42 45.62h3.9l-1.95 -3.2zM506.57 45.62h3.9l-1.95 -3.2zM506.64 45.62h3.9l-1.95 -3.2zM506.72 45.62h3.9l-1.95 -3.2zM506.86 45.62h3.9l-1.95 -3.2zM506.94 45.62h3.9l-1.95 -3.2zM507.01 45.62h3.9l-1.95 -3.2zM507.15 45.62h3.9l-1.95 -3.2zM507.23 45.62h3.9l-1.95 -3.2zM507.30 45.62h3.9l-1.95 -3.2zM507.45 45.62h3.9l-1.95 -3.2zM507.52 45.62h3.9l-1.95 -3.2zM507.66 45.62h3.9l-1.95 -3.2zM507.73 45.62h3.9l-1.95 -3.2zM507.81 45.62h3.9l-1.95 -3.2zM507.95 45.62h3.9l-1.95 -3.2zM508.02 45.62h3.9l-1.95 -3.2zM508.16 45.62h3.9l-1.95 -3.2zM508.24 45.62h3.9l-1.95 -3.2zM508.31 45.62h3.9l-1.95 -3.2zM508.45 45.62h3.9l-1.95 -3.2zM508.52 45.62h3.9l-1.95 -3.2zM508.66 45.62h3.9l-1.95 -3.2zM508.73 45.62h3.9l-1.95 -3.2zM508.80 45.62h3.9l-1.95 -3.2zM508.95 45.62h3.9l-1.95 -3.2zM509.02 45.62h3.9l-1.95 -3.2zM509.16 45.62h3.9l-1.95 -3.2zM509.23 45.62h3.9l-1.95 -3.2zM509.37 45.62h3.9l-1.95 -3.2zM509.44 45.62h3.9l-1.95 -3.2zM509.51 45.62h3.9l-1.95 -3.2zM509.64 45.62h3.9l-1.95 -3.2zM509.71 45.62h3.9l-1.95 -3.2zM509.85 45.62h3.9l-1.95 -3.2zM509.92 45.62h3.9l-1.95 -3.2zM510.06 45.62h3.9l-1.95 -3.2zM510.13 45.62h3.9l-1.95 -3.2zM510.27 45.62h3.9l-1.95 -3.2zM510.33 45.62h3.9l-1.95 -3.2zM510.40 45.62h3.9l-1.95 -3.2zM510.54 45.62h3.9l-1.95 -3.2zM510.61 45.62h3.9l-1.95 -3.2zM510.74 45.62h3.9l-1.95 -3.2zM510.81 45.62h3.9l-1.95 -3.2zM510.95 45.62h3.9l-1.95 -3.2zM511.02 45.62h3.9l-1.95 -3.2zM511.15 45.62h3.9l-1.95 -3.2zM511.22 45.62h3.9l-1.95 -3.2zM511.35 45.62h3.9l-1.95 -3.2zM511.42 45.62h3.9l-1.95 -3.2zM511.55 45.62h3.9l-1.95 -3.2zM511.62 45.62h3.9l-1.95 -3.2zM511.75 45.62h3.9l-1.95 -3.2zM511.82 45.62h3.9l-1.95 -3.2zM511.95 45.62h3.9l-1.95 -3.2zM512.02 45.62h3.9l-1.95 -3.2zM512.15 45.62h3.9l-1.95 -3.2zM512.22 45.62h3.9l-1.95 -3.2zM512.35 45.62h3.9l-1.95 -3.2zM512.42 45.62h3.9l-1.95 -3.2zM512.55 45.62h3.9l-1.95 -3.2zM512.61 45.62h3.9l-1.95 -3.2zM512.75 45.62h3.9l-1.95 -3.2zM512.81 45.62h3.9l-1.95 -3.2zM512.94 45.62h3.9l-1.95 -3.2zM513.01 45.62h3.9l-1.95 -3.2zM513.14 45.62h3.9l-1.95 -3.2zM513.20 45.62h3.9l-1.95 -3.2zM513.33 45.62h3.9l-1.95 -3.2zM513.46 45.62h3.9l-1.95 -3.2zM513.52 45.62h3.9l-1.95 -3.2zM513.65 45.62h3.9l-1.95 -3.2zM513.72 45.62h3.9l-1.95 -3.2zM513.85 45.62h3.9l-1.95 -3.2zM513.91 45.62h3.9l-1.95 -3.2zM514.04 45.62h3.9l-1.95 -3.2zM514.10 45.62h3.9l-1.95 -3.2zM514.23 45.62h3.9l-1.95 -3.2zM514.36 45.62h3.9l-1.95 -3.2zM514.42 45.62h3.9l-1.95 -3.2zM514.55 45.62h3.9l-1.95 -3.2zM514.61 45.62h3.9l-1.95 -3.2zM514.74 45.62h3.9l-1.95 -3.2zM514.86 45.62h3.9l-1.95 -3.2zM514.92 45.62h3.9l-1.95 -3.2zM515.05 45.62h3.9l-1.95 -3.2zM515.11 45.62h3.9l-1.95 -3.2zM515.24 45.62h3.9l-1.95 -3.2zM515.36 45.62h3.9l-1.95 -3.2zM515.42 45.62h3.9l-1.95 -3.2zM515.55 45.62h3.9l-1.95 -3.2zM515.61 45.62h3.9l-1.95 -3.2zM515.73 45.62h3.9l-1.95 -3.2zM515.86 45.62h3.9l-1.95 -3.2zM515.92 45.62h3.9l-1.95 -3.2zM516.04 45.62h3.9l-1.95 -3.2zM516.10 45.62h3.9l-1.95 -3.2zM516.23 45.62h3.9l-1.95 -3.2zM516.35 45.62h3.9l-1.95 -3.2zM516.41 45.62h3.9l-1.95 -3.2zM516.53 45.62h3.9l-1.95 -3.2zM516.65 45.62h3.9l-1.95 -3.2zM516.71 45.62h3.9l-1.95 -3.2zM516.83 45.62h3.9l-1.95 -3.2zM516.96 45.62h3.9l-1.95 -3.2zM517.02 45.62h3.9l-1.95 -3.2zM517.14 45.62h3.9l-1.95 -3.2zM517.26 45.62h3.9l-1.95 -3.2zM517.32 45.62h3.9l-1.95 -3.2zM517.44 45.62h3.9l-1.95 -3.2zM517.56 45.62h3.9l-1.95 -3.2zM517.61 45.62h3.9l-1.95 -3.2zM517.73 45.62h3.9l-1.95 -3.2zM517.85 45.62h3.9l-1.95 -3.2zM517.91 45.62h3.9l-1.95 -3.2zM518.03 45.62h3.9l-1.95 -3.2zM518.15 45.62h3.9l-1.95 -3.2zM518.21 45.62h3.9l-1.95 -3.2zM518.33 45.62h3.9l-1.95 -3.2zM518.44 45.62h3.9l-1.95 -3.2zM518.50 45.62h3.9l-1.95 -3.2zM518.62 45.62h3.9l-1.95 -3.2zM518.74 45.62h3.9l-1.95 -3.2zM518.85 45.62h3.9l-1.95 -3.2zM518.91 45.62h3.9l-1.95 -3.2zM519.03 45.62h3.9l-1.95 -3.2zM519.14 45.62h3.9l-1.95 -3.2zM519.26 45.62h3.9l-1.95 -3.2zM519.32 45.62h3.9l-1.95 -3.2zM519.43 45.62h3.9l-1.95 -3.2zM519.55 45.62h3.9l-1.95 -3.2zM519.60 45.62h3.9l-1.95 -3.2zM519.72 45.62h3.9l-1.95 -3.2zM519.83 45.62h3.9l-1.95 -3.2zM519.95 45.62h3.9l-1.95 -3.2zM520.00 45.62h3.9l-1.95 -3.2zM520.12 45.62h3.9l-1.95 -3.2zM520.23 45.62h3.9l-1.95 -3.2zM520.34 45.62h3.9l-1.95 -3.2zM520.40 45.62h3.9l-1.95 -3.2zM520.51 45.62h3.9l-1.95 -3.2zM520.63 45.62h3.9l-1.95 -3.2zM520.74 45.62h3.9l-1.95 -3.2zM520.85 45.62h3.9l-1.95 -3.2zM520.91 45.62h3.9l-1.95 -3.2zM521.02 45.62h3.9l-1.95 -3.2zM521.13 45.62h3.9l-1.95 -3.2zM521.24 45.62h3.9l-1.95 -3.2zM521.35 45.62h3.9l-1.95 -3.2zM521.41 45.62h3.9l-1.95 -3.2zM521.52 45.62h3.9l-1.95 -3.2zM521.63 45.62h3.9l-1.95 -3.2zM521.74 45.62h3.9l-1.95 -3.2zM521.85 45.62h3.9l-1.95 -3.2zM521.90 45.62h3.9l-1.95 -3.2zM522.01 45.62h3.9l-1.95 -3.2zM522.12 45.62h3.9l-1.95 -3.2zM522.23 45.62h3.9l-1.95 -3.2zM522.34 45.62h3.9l-1.95 -3.2zM522.45 45.62h3.9l-1.95 -3.2zM522.50 45.62h3.9l-1.95 -3.2zM522.61 45.62h3.9l-1.95 -3.2zM522.72 45.62h3.9l-1.95 -3.2zM522.83 45.62h3.9l-1.95 -3.2zM522.94 45.62h3.9l-1.95 -3.2zM523.04 45.62h3.9l-1.95 -3.2zM523.15 45.62h3.9l-1.95 -3.2zM523.20 45.62h3.9l-1.95 -3.2zM523.31 45.62h3.9l-1.95 -3.2zM523.42 45.62h3.9l-1.95 -3.2zM523.53 45.62h3.9l-1.95 -3.2zM523.63 45.62h3.9l-1.95 -3.2zM523.74 45.62h3.9l-1.95 -3.2zM523.84 45.62h3.9l-1.95 -3.2zM523.95 45.62h3.9l-1.95 -3.2zM524.00 45.62h3.9l-1.95 -3.2zM524.11 45.62h3.9l-1.95 -3.2zM524.21 45.62h3.9l-1.95 -3.2zM524.32 45.62h3.9l-1.95 -3.2zM524.42 45.62h3.9l-1.95 -3.2zM524.53 45.62h3.9l-1.95 -3.2zM524.63 45.62h3.9l-1.95 -3.2z"/>
<g stroke="#000" stroke-width="1.5" fill="none">
<path d="M73.5 7.8V388.8M70 385.5H542.6"/>
<path d="M66 354.00H73.5M66 291.06H73.5M66 228.12H73.5M66 165.18H73.5M66 102.24H73.5M66 39.30H73.5M69.6 385.47H73.5M69.6 322.53H73.5M69.6 259.59H73.5M69.6 196.65H73.5M69.6 133.71H73.5M69.6 70.77H73.5M69.6 7.83H73.5M109.50 385.5V393M229.45 385.5V393M349.40 385.5V393M469.35 385.5V393M73.39 385.5V388.8M82.89 385.5V388.8M90.92 385.5V388.8M97.88 385.5V388.8M104.01 385.5V388.8M145.61 385.5V388.8M166.73 385.5V388.8M181.72 385.5V388.8M193.34 385.5V388.8M202.84 385.5V388.8M210.87 385.5V388.8M217.83 385.5V388.8M223.96 385.5V388.8M265.56 385.5V388.8M286.68 385.5V388.8M301.67 385.5V388.8M313.29 385.5V388.8M322.79 385.5V388.8M330.82 385.5V388.8M337.78 385.5V388.8M343.91 385.5V388.8M385.51 385.5V388.8M406.63 385.5V388.8M421.62 385.5V388.8M433.24 385.5V388.8M442.74 385.5V388.8M450.77 385.5V388.8M457.73 385.5V388.8M463.86 385.5V388.8M505.46 385.5V388.8M526.58 385.5V388.8M541.57 385.5V388.8"/>
</g>
<text class="tl" transform="translate(36.00 362.40)" x="-5.25">0</text>
<text class="tl" transform="translate(43.55 362.40)" x="-2.62">.</text>
<text class="tl" transform="translate(55.50 362.40)" x="-5.25">0</text>
<text class="tl" transform="translate(36.00 299.46)" x="-5.25">0</text>
<text class="tl" transform="translate(43.55 299.46)" x="-2.62">.</text>
<text class="tl" transform="translate(55.50 299.46)" x="-5.13">2</text>
<text class="tl" transform="translate(36.00 236.52)" x="-5.25">0</text>
<text class="tl" transform="translate(43.55 236.52)" x="-2.62">.</text>
<text class="tl" transform="translate(55.50 236.52) scale(0.949 1)" x="-5.29">4</text>
<text class="tl" transform="translate(36.00 173.58)" x="-5.25">0</text>
<text class="tl" transform="translate(43.55 173.58)" x="-2.62">.</text>
<text class="tl" transform="translate(55.50 173.58)" x="-5.39">6</text>
<text class="tl" transform="translate(36.00 110.64)" x="-5.25">0</text>
<text class="tl" transform="translate(43.55 110.64)" x="-2.62">.</text>
<text class="tl" transform="translate(55.50 110.64)" x="-5.25">8</text>
<text class="tl" transform="translate(36.00 47.70)" x="-5.54">1</text>
<text class="tl" transform="translate(43.55 47.70)" x="-2.62">.</text>
<text class="tl" transform="translate(55.50 47.70)" x="-5.25">0</text>
<text class="tl" transform="translate(95.08 414.80)" x="-5.54">1</text>
<text class="tl" transform="translate(104.83 414.80) scale(0.829 1)" x="-6.19">E</text>
<text class="tl" transform="translate(114.58 410.98) scale(1.448 0.650)" x="-3.51">-</text>
<text class="tl" transform="translate(124.33 414.80)" x="-5.39">6</text>
<text class="tl" transform="translate(215.02 414.80)" x="-5.54">1</text>
<text class="tl" transform="translate(224.77 414.80) scale(0.829 1)" x="-6.19">E</text>
<text class="tl" transform="translate(234.52 410.98) scale(1.448 0.650)" x="-3.51">-</text>
<text class="tl" transform="translate(244.27 414.80)" x="-5.45">5</text>
<text class="tl" transform="translate(334.97 414.80)" x="-5.54">1</text>
<text class="tl" transform="translate(344.72 414.80) scale(0.829 1)" x="-6.19">E</text>
<text class="tl" transform="translate(354.47 410.98) scale(1.448 0.650)" x="-3.51">-</text>
<text class="tl" transform="translate(364.22 414.80) scale(0.949 1)" x="-5.29">4</text>
<text class="tl" transform="translate(450.05 414.80)" x="-5.25">0</text>
<text class="tl" transform="translate(457.60 414.80)" x="-2.62">.</text>
<text class="tl" transform="translate(469.55 414.80)" x="-5.25">0</text>
<text class="tl" transform="translate(479.30 414.80)" x="-5.25">0</text>
<text class="tl" transform="translate(489.05 414.80)" x="-5.54">1</text>
<text class="ti" transform="translate(120.00 445.90) scale(0.894 1)" x="-7.19">F</text>
<text class="ti" transform="translate(132.50 445.90)" x="-6.55">o</text>
<text class="ti" transform="translate(145.00 445.90) scale(1.255 1)" x="-4.51">r</text>
<text class="ti" transform="translate(157.50 445.90) scale(0.669 1)" x="-10.26">m</text>
<text class="ti" transform="translate(170.00 445.90)" x="-6.10">a</text>
<text class="ti" transform="translate(182.50 445.90)" x="-3.64">l</text>
<text class="ti" transform="translate(195.00 445.90) scale(0.972 1)" x="-6.86">d</text>
<text class="ti" transform="translate(207.50 445.90) scale(1.031 1)" x="-5.87">e</text>
<text class="ti" transform="translate(220.00 445.90) scale(0.920 1)" x="-6.51">h</text>
<text class="ti" transform="translate(232.50 445.90) scale(0.907 1)" x="-6.66">y</text>
<text class="ti" transform="translate(245.00 445.90) scale(0.972 1)" x="-6.86">d</text>
<text class="ti" transform="translate(257.50 445.90) scale(1.031 1)" x="-5.87">e</text>
<text class="ti" transform="translate(282.50 445.90) scale(1.018 1)" x="-5.91">c</text>
<text class="ti" transform="translate(295.00 445.90)" x="-6.55">o</text>
<text class="ti" transform="translate(307.50 445.90) scale(0.950 1)" x="-6.65">n</text>
<text class="ti" transform="translate(320.00 445.90) scale(1.018 1)" x="-5.91">c</text>
<text class="ti" transform="translate(332.50 445.90) scale(1.031 1)" x="-5.87">e</text>
<text class="ti" transform="translate(345.00 445.90) scale(0.950 1)" x="-6.65">n</text>
<text class="ti" transform="translate(357.50 445.90) scale(1.456 1)" x="-3.69">t</text>
<text class="ti" transform="translate(370.00 445.90) scale(1.255 1)" x="-4.51">r</text>
<text class="ti" transform="translate(382.50 445.90)" x="-6.10">a</text>
<text class="ti" transform="translate(395.00 445.90) scale(1.456 1)" x="-3.69">t</text>
<text class="ti" transform="translate(407.50 445.90)" x="-3.67">i</text>
<text class="ti" transform="translate(420.00 445.90)" x="-6.55">o</text>
<text class="ti" transform="translate(432.50 445.90) scale(0.950 1)" x="-6.65">n</text>
<text class="ti" transform="translate(447.10 443.00) scale(1.000 0.920)" x="-4.52">(</text>
<text class="ti" transform="translate(457.50 445.90)" x="-6.86">g</text>
<text class="ti" transform="translate(470.00 445.90) scale(1.528 1)" x="-3.64">/</text>
<text class="ti" transform="translate(482.50 445.90) scale(0.841 1)" x="-7.59">L</text>
<text class="ti" transform="translate(493.00 443.00) scale(1.000 0.920)" x="-4.21">)</text>
<text class="ti" transform="translate(23.70 340.00) rotate(-90) scale(0.655 1.000)" x="-9.54">N</text>
<text class="ti" transform="translate(23.70 327.50) rotate(-90) scale(1.000 1.000)" x="-6.55">o</text>
<text class="ti" transform="translate(23.70 315.00) rotate(-90) scale(1.255 1.000)" x="-4.51">r</text>
<text class="ti" transform="translate(23.70 302.50) rotate(-90) scale(0.669 1.000)" x="-10.26">m</text>
<text class="ti" transform="translate(23.70 290.00) rotate(-90) scale(1.000 1.000)" x="-6.10">a</text>
<text class="ti" transform="translate(23.70 277.50) rotate(-90) scale(1.000 1.000)" x="-3.64">l</text>
<text class="ti" transform="translate(23.70 265.00) rotate(-90) scale(1.000 1.000)" x="-3.67">i</text>
<text class="ti" transform="translate(23.70 252.50) rotate(-90) scale(1.000 1.000)" x="-5.80">z</text>
<text class="ti" transform="translate(23.70 240.00) rotate(-90) scale(1.031 1.000)" x="-5.87">e</text>
<text class="ti" transform="translate(23.70 227.50) rotate(-90) scale(0.972 1.000)" x="-6.86">d</text>
<text class="ti" transform="translate(23.70 202.50) rotate(-90) scale(0.972 1.000)" x="-6.86">d</text>
<text class="ti" transform="translate(23.70 190.00) rotate(-90) scale(1.000 1.000)" x="-6.55">o</text>
<text class="ti" transform="translate(23.70 177.50) rotate(-90) scale(1.223 1.000)" x="-5.16">s</text>
<text class="ti" transform="translate(23.70 165.00) rotate(-90) scale(1.031 1.000)" x="-5.87">e</text>
<text class="ti" transform="translate(18.93 152.50) rotate(-90) scale(1.616 0.650)" x="-4.38">-</text>
<text class="ti" transform="translate(23.70 140.00) rotate(-90) scale(1.255 1.000)" x="-4.51">r</text>
<text class="ti" transform="translate(23.70 127.50) rotate(-90) scale(1.031 1.000)" x="-5.87">e</text>
<text class="ti" transform="translate(23.70 115.00) rotate(-90) scale(1.223 1.000)" x="-5.16">s</text>
<text class="ti" transform="translate(23.70 102.50) rotate(-90) scale(0.987 1.000)" x="-6.25">p</text>
<text class="ti" transform="translate(23.70 90.00) rotate(-90) scale(1.000 1.000)" x="-6.55">o</text>
<text class="ti" transform="translate(23.70 77.50) rotate(-90) scale(0.950 1.000)" x="-6.65">n</text>
<text class="ti" transform="translate(23.70 65.00) rotate(-90) scale(1.223 1.000)" x="-5.16">s</text>
<text class="ti" transform="translate(23.70 52.50) rotate(-90) scale(1.031 1.000)" x="-5.87">e</text>
<rect x="89.7" y="21.9" width="280" height="46.6" fill="#000"/>
<rect x="84.5" y="16.5" width="280" height="46.3" fill="#fff" stroke="#666" stroke-width="1"/>
<rect x="102.85" y="25.1" width="7.4" height="7.4" fill="#4b4b4b" stroke="#2b2b2b" stroke-width="0.8"/>
<path fill="#f42a2a" d="M104.9 52.1h3.4l-1.7 -3.2z"/>
<text class="lg" transform="translate(140.85 35.70) scale(0.702 1)" x="-7.35">N</text>
<text class="lg" transform="translate(150.65 35.70)" x="-5.05">o</text>
<text class="lg" transform="translate(160.45 35.70) scale(1.356 1)" x="-3.48">r</text>
<text class="lg" transform="translate(170.25 35.70) scale(0.681 1)" x="-7.91">m</text>
<text class="lg" transform="translate(180.05 35.70) scale(1.044 1)" x="-4.70">a</text>
<text class="lg" transform="translate(189.85 35.70)" x="-2.81">l</text>
<text class="lg" transform="translate(199.65 35.70)" x="-2.83">i</text>
<text class="lg" transform="translate(209.45 35.70) scale(1.060 1)" x="-4.47">z</text>
<text class="lg" transform="translate(219.25 35.70) scale(1.114 1)" x="-4.53">e</text>
<text class="lg" transform="translate(229.05 35.70)" x="-5.29">d</text>
<text class="lg" transform="translate(248.65 35.70)" x="-5.29">d</text>
<text class="lg" transform="translate(258.45 35.70)" x="-5.05">o</text>
<text class="lg" transform="translate(268.25 35.70) scale(1.322 1)" x="-3.98">s</text>
<text class="lg" transform="translate(278.05 35.70) scale(1.114 1)" x="-4.53">e</text>
<text class="lg" transform="translate(287.85 32.02) scale(1.625 0.650)" x="-3.37">-</text>
<text class="lg" transform="translate(297.65 35.70) scale(1.356 1)" x="-3.48">r</text>
<text class="lg" transform="translate(307.45 35.70) scale(1.114 1)" x="-4.53">e</text>
<text class="lg" transform="translate(317.25 35.70)" x="-4.82">p</text>
<text class="lg" transform="translate(327.05 35.70)" x="-5.05">o</text>
<text class="lg" transform="translate(336.85 35.70)" x="-5.13">n</text>
<text class="lg" transform="translate(346.65 35.70) scale(1.322 1)" x="-3.98">s</text>
<text class="lg" transform="translate(356.45 35.70) scale(1.114 1)" x="-4.53">e</text>
<text class="lg" transform="translate(140.85 57.40) scale(0.958 1)" x="-5.54">F</text>
<text class="lg" transform="translate(150.65 57.40)" x="-2.83">i</text>
<text class="lg" transform="translate(160.45 57.40) scale(1.573 1)" x="-2.85">t</text>
<text class="lg" transform="translate(170.25 57.40) scale(1.573 1)" x="-2.85">t</text>
<text class="lg" transform="translate(180.05 57.40) scale(1.114 1)" x="-4.53">e</text>
<text class="lg" transform="translate(189.85 57.40)" x="-5.29">d</text>
<text class="lg" transform="translate(209.45 57.40) scale(1.100 1)" x="-4.56">c</text>
<text class="lg" transform="translate(219.25 57.40)" x="-5.01">u</text>
<text class="lg" transform="translate(229.05 57.40) scale(1.356 1)" x="-3.48">r</text>
<text class="lg" transform="translate(238.85 57.40) scale(0.941 1)" x="-5.05">v</text>
<text class="lg" transform="translate(248.65 57.40) scale(1.114 1)" x="-4.53">e</text>
</svg>
</body></html>
